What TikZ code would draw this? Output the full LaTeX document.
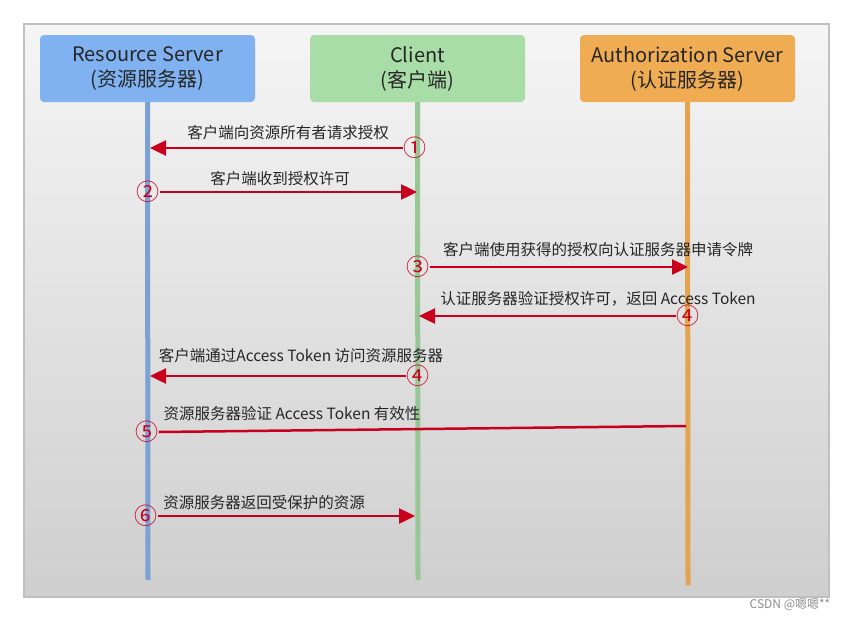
\documentclass[tikz,border=0pt]{standalone}
\usepackage{fontspec}
\setmainfont{Noto Sans CJK SC}
\usetikzlibrary{arrows.meta,shadows}
\definecolor{arr}{HTML}{C8001E}
\definecolor{bl}{HTML}{80B2F2}
\definecolor{gr}{HTML}{A9DDA8}
\definecolor{org}{HTML}{F0AC52}
\begin{document}
\begin{tikzpicture}[x=1pt,y=-1pt,
 head/.style={rounded corners=4pt,minimum width=215pt,minimum height=67pt,align=center,font=\fontsize{20}{25}\selectfont,text=black!85},
 life/.style={line width=5pt},
 msg/.style={draw=arr,line width=2.5pt,-{Triangle[length=16pt,width=15pt]}},
 lbl/.style={font=\fontsize{15.5}{17}\selectfont,text=black!85},
 num/.style={font=\fontsize{23}{23}\selectfont,text=arr,inner sep=0pt,fill=none}]
\useasboundingbox (0,0) rectangle (853,621);
\fill[white] (0,0) rectangle (853,621);
\fill[black!25] (23,23) rectangle (830,598);
\shade[top color=black!4,bottom color=black!19] (25,25) rectangle (828,595);
\node[head,fill=bl] (rs) at (147.5,68.5) {Resource Server\\(资源服务器)};
\node[head,fill=gr] (cl) at (417.5,68.5) {Client\\(客户端)};
\node[head,fill=org] (as) at (687.5,68.5) {Authorization Server\\(认证服务器)};
\coordinate (rsE) at (148,580);
\coordinate (clE) at (418,580);
\coordinate (asE) at (688,585);
\draw[life,draw=bl!85!black!90] (rs.south) -- (rsE);
\draw[life,draw=gr!90!black] (cl.south) -- (clE);
\draw[life,draw=org!95!black] (as.south) -- (asE);
% 1
\node[num] (n1) at (415,148) {①};
\coordinate (e1) at (150,148);
\draw[msg] (n1.west) -- (e1);
\node[lbl] (l1) at (288,133) {客户端向资源所有者请求授权};
% 2
\node[num] (n2) at (148,192) {②};
\coordinate (e2) at (417,192);
\draw[msg] (n2.east) -- (e2);
\node[lbl] (l2) at (280,179) {客户端收到授权许可};
% 3
\node[num] (n3) at (418,267) {③};
\coordinate (e3) at (688,267);
\draw[msg] (n3.east) -- (e3);
\node[lbl] (l3) at (598,250) {客户端使用获得的授权向认证服务器申请令牌};
% 4
\node[num] (n4) at (688,316) {④};
\coordinate (e4) at (419,316);
\draw[msg] (n4.west) -- (e4);
\node[lbl] (l4) at (598,299) {认证服务器验证授权许可，返回 Access Token};
% 4b
\node[num] (n4b) at (418,376) {④};
\coordinate (e4b) at (150,376);
\draw[msg] (n4b.west) -- (e4b);
\node[lbl] (l4b) at (301,356) {客户端通过Access Token 访问资源服务器};
% 5
\node[num] (n5) at (147,432) {⑤};
\coordinate (s5) at (686,426);
\draw[draw=arr,line width=2.5pt] (s5) -- (n5.east);
\node[lbl] (l5) at (292,414) {资源服务器验证 Access Token 有效性};
% 6
\node[num] (n6) at (146,516) {⑥};
\coordinate (e6) at (415,516);
\draw[msg] (n6.east) -- (e6);
\node[lbl] (l6) at (264,503) {资源服务器返回受保护的资源};
\node[font=\fontsize{12}{13}\selectfont,text=black!45] (wm) at (790,605) {CSDN @嗯嗯**};
\end{tikzpicture}
\end{document}
